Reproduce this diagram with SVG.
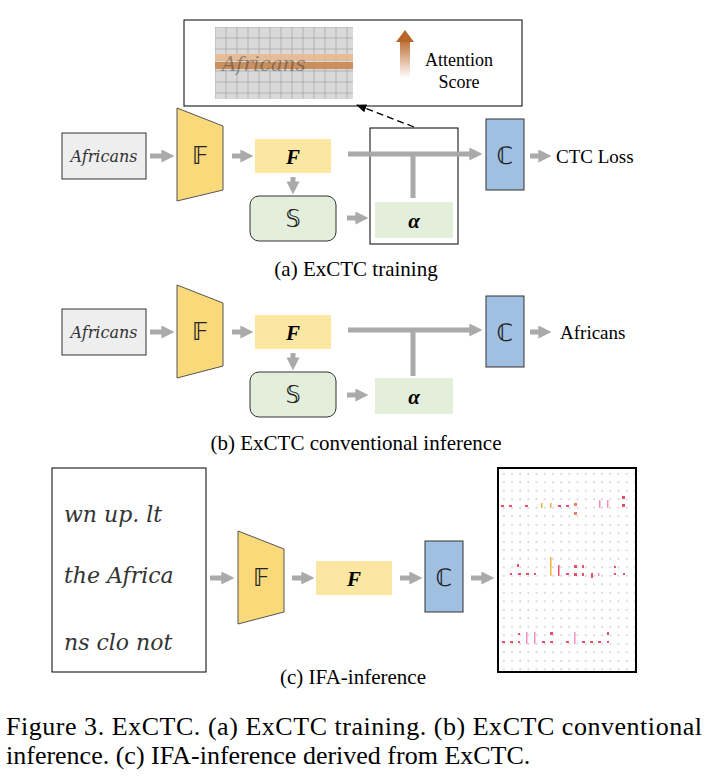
<svg xmlns="http://www.w3.org/2000/svg" width="720" height="780" viewBox="0 0 720 780">
<style>
.t{font-family:"Liberation Serif",serif;fill:#000}
.hw{font-family:"DejaVu Serif",serif;font-style:italic;fill:#333}
.enc{fill:#fad97a;stroke:#555;stroke-width:1}
.feat{fill:#fbe6a2}
.sel{fill:#e3eedb;stroke:#333;stroke-width:1}
.alpha{fill:#e3eedb}
.cls{fill:#9fc0e0;stroke:#333;stroke-width:1}
.g{stroke:#aaa;stroke-width:5;fill:none}
.ds{font-family:"DejaVu Sans",sans-serif;font-size:24px;fill:#222}
</style>
<defs>
<marker id="ah" viewBox="0 0 10 10" refX="2" refY="5" markerWidth="2.6" markerHeight="2.6" orient="auto"><path d="M0,0L10,5L0,10z" fill="#aaa"/></marker>
<marker id="ak" viewBox="0 0 10 10" refX="9" refY="5" markerWidth="8" markerHeight="8" orient="auto"><path d="M0,1L10,5L0,9z" fill="#000"/></marker>
<linearGradient id="ag" x1="0" y1="1" x2="0" y2="0"><stop offset="0" stop-color="#c06020" stop-opacity="0"/><stop offset="1" stop-color="#b8652a"/></linearGradient>
<pattern id="grid" width="11" height="11" patternUnits="userSpaceOnUse" x="215" y="27"><rect width="11" height="11" fill="#d9d9d9" stroke="#999" stroke-width="0.6"/></pattern>
<pattern id="dots" width="8.2" height="8.5" patternUnits="userSpaceOnUse" x="500" y="470"><rect x="3" y="3" width="1.6" height="1.6" fill="#c8c8d8"/></pattern>
</defs>
<g id="attention">
<rect x="184" y="20" width="338" height="86" fill="#fff" stroke="#000" stroke-width="1"/>
<rect x="215" y="27" width="138" height="72" fill="url(#grid)"/>
<rect x="215" y="54" width="138" height="7" fill="#e8b890" opacity="0.9"/>
<rect x="215" y="62" width="138" height="7" fill="#c8824a" opacity="0.85"/>
<text x="222" y="71" class="hw" font-size="20" fill-opacity="0.45">Africans</text>
<rect x="400" y="38" width="10" height="40" fill="url(#ag)"/>
<path d="M396,42L405,30L414,42z" fill="#b8652a"/>
<text x="459" y="66" class="t" font-size="18" text-anchor="middle">Attention</text>
<text x="459" y="88" class="t" font-size="18" text-anchor="middle">Score</text>
</g>
<g id="a_input"><rect x="62" y="133" width="84" height="46" fill="#eee" stroke="#333"/><text x="104" y="162" class="hw" font-size="16" text-anchor="middle">Africans</text></g>
<g id="a_enc"><path d="M177,108L223,126L223,190L177,201z" class="enc"/><text x="200" y="164" class="ds" text-anchor="middle">𝔽</text></g>
<g id="a_F"><rect x="255" y="139" width="76" height="34" class="feat"/><text x="293" y="164" class="t" font-size="21" font-weight="bold" font-style="italic" text-anchor="middle">F</text></g>
<g id="a_S"><rect x="250" y="196" width="86" height="45" rx="9" class="sel"/><text x="293" y="227" class="ds" text-anchor="middle">𝕊</text></g>
<g id="a_alpha"><rect x="375" y="202" width="78" height="36" class="alpha"/><text x="414" y="228" class="t" font-size="21" font-weight="bold" font-style="italic" text-anchor="middle">α</text></g>
<g id="a_box"><rect x="370" y="128" width="88" height="116" fill="none" stroke="#000"/></g>
<g id="a_C"><rect x="486" y="119" width="38" height="71" class="cls"/><text x="505" y="164" class="ds" text-anchor="middle">ℂ</text></g>
<text x="556" y="163" class="t" font-size="19">CTC Loss</text>
<text x="356" y="276" class="t" font-size="21" text-anchor="middle">(a) ExCTC training</text>
<g id="b_input"><rect x="62" y="309" width="84" height="46" fill="#eee" stroke="#333"/><text x="104" y="338" class="hw" font-size="16" text-anchor="middle">Africans</text></g>
<g id="b_enc"><path d="M177,285L223,303L223,366L177,378z" class="enc"/><text x="200" y="340" class="ds" text-anchor="middle">𝔽</text></g>
<g id="b_F"><rect x="255" y="315" width="76" height="34" class="feat"/><text x="293" y="340" class="t" font-size="21" font-weight="bold" font-style="italic" text-anchor="middle">F</text></g>
<g id="b_S"><rect x="250" y="372" width="86" height="45" rx="9" class="sel"/><text x="293" y="403" class="ds" text-anchor="middle">𝕊</text></g>
<g id="b_alpha"><rect x="375" y="378" width="78" height="36" class="alpha"/><text x="414" y="404" class="t" font-size="21" font-weight="bold" font-style="italic" text-anchor="middle">α</text></g>
<g id="b_C"><rect x="486" y="296" width="38" height="71" class="cls"/><text x="505" y="341" class="ds" text-anchor="middle">ℂ</text></g>
<text x="560" y="339" class="t" font-size="19">Africans</text>
<text x="356" y="450" class="t" font-size="21" text-anchor="middle">(b) ExCTC conventional inference</text>
<g id="c_page"><rect x="52" y="468" width="154" height="204" fill="#fff" stroke="#000" stroke-width="1"/>
<text x="64" y="522" class="hw" font-size="22">wn  up.  lt</text>
<text x="64" y="583" class="hw" font-size="22">the  Africa</text>
<text x="64" y="650" class="hw" font-size="22">ns  clo  not</text></g>
<g id="c_enc"><path d="M238,531L284,549L284,612L238,624z" class="enc"/><text x="261" y="586" class="ds" text-anchor="middle">𝔽</text></g>
<g id="c_F"><rect x="316" y="561" width="76" height="34" class="feat"/><text x="354" y="586" class="t" font-size="21" font-weight="bold" font-style="italic" text-anchor="middle">F</text></g>
<g id="c_C"><rect x="425" y="541" width="38" height="71" class="cls"/><text x="444" y="586" class="ds" text-anchor="middle">ℂ</text></g>
<g id="c_out"><rect x="498" y="468" width="138" height="204" fill="url(#dots)" stroke="#000" stroke-width="2"/>
<g fill="#e8506a">
<rect x="501" y="505" width="3" height="2"/><rect x="509" y="505" width="3" height="2"/><rect x="525" y="505" width="3" height="2"/><rect x="541" y="503" width="1.5" height="5" fill="#f0b040"/><rect x="550" y="503" width="1.5" height="5" fill="#f0b040"/><rect x="558" y="505" width="3" height="2"/><rect x="566" y="505" width="3" height="2"/><rect x="574" y="503" width="3" height="3" fill="#f08060"/><rect x="574" y="512" width="3" height="3" fill="#f08060"/><rect x="599" y="500" width="1.5" height="8" fill="#f090c0"/><rect x="607" y="500" width="1.5" height="8" fill="#f090c0"/><rect x="622" y="496" width="3" height="3"/><rect x="622" y="504" width="3" height="3"/>
<rect x="517" y="564" width="2" height="3"/><rect x="510" y="573" width="2" height="2"/><rect x="518" y="573" width="3" height="2"/><rect x="526" y="573" width="3" height="2"/><rect x="534" y="573" width="2" height="2"/><rect x="550" y="557" width="1.5" height="19" fill="#f0b040"/><rect x="558" y="565" width="1.5" height="11"/><rect x="566" y="573" width="3" height="2"/><rect x="574" y="565" width="3" height="3"/><rect x="574" y="573" width="3" height="3"/><rect x="582" y="565" width="2" height="3"/><rect x="582" y="573" width="2" height="3"/><rect x="591" y="573" width="2" height="5"/><rect x="598" y="573" width="1.5" height="3" fill="#f090c0"/><rect x="614" y="566" width="2" height="2"/><rect x="614" y="573" width="2" height="2"/><rect x="623" y="573" width="2" height="2"/>
<rect x="502" y="641" width="3" height="2"/><rect x="510" y="641" width="3" height="2"/><rect x="518" y="633" width="2" height="2"/><rect x="518" y="641" width="2" height="2"/><rect x="526" y="632" width="1.5" height="12" fill="#f090c0"/><rect x="534" y="632" width="1.5" height="12" fill="#f090c0"/><rect x="542" y="641" width="3" height="2"/><rect x="550" y="632" width="3" height="3"/><rect x="550" y="641" width="3" height="2"/><rect x="566" y="641" width="3" height="2"/><rect x="574" y="632" width="1.5" height="12" fill="#f090c0"/><rect x="582" y="641" width="3" height="2"/><rect x="590" y="641" width="3" height="2"/><rect x="598" y="641" width="3" height="2"/><rect x="607" y="632" width="2" height="3"/><rect x="607" y="641" width="2" height="2"/>
</g></g>
<text x="353" y="684" class="t" font-size="21" text-anchor="middle">(c) IFA-inference</text>
<g id="connectors">
<line x1="150" y1="156" x2="164" y2="156" class="g" marker-end="url(#ah)"/>
<line x1="232" y1="156" x2="243" y2="156" class="g" marker-end="url(#ah)"/>
<line x1="293" y1="177" x2="293" y2="184" class="g" marker-end="url(#ah)"/>
<line x1="347" y1="218" x2="358" y2="218" class="g" marker-end="url(#ah)"/>
<line x1="348" y1="154" x2="472" y2="154" class="g" marker-end="url(#ah)"/>
<line x1="413" y1="154" x2="413" y2="198" class="g"/>
<line x1="530" y1="156" x2="541" y2="156" class="g" marker-end="url(#ah)"/>
<line x1="414" y1="127" x2="357" y2="105" stroke="#000" stroke-width="1.3" stroke-dasharray="7,4" marker-end="url(#ak)"/>
<line x1="150" y1="332" x2="164" y2="332" class="g" marker-end="url(#ah)"/>
<line x1="232" y1="332" x2="243" y2="332" class="g" marker-end="url(#ah)"/>
<line x1="293" y1="353" x2="293" y2="360" class="g" marker-end="url(#ah)"/>
<line x1="347" y1="395" x2="358" y2="395" class="g" marker-end="url(#ah)"/>
<line x1="348" y1="330" x2="472" y2="330" class="g" marker-end="url(#ah)"/>
<line x1="413" y1="330" x2="413" y2="376" class="g"/>
<line x1="530" y1="332" x2="541" y2="332" class="g" marker-end="url(#ah)"/>
<line x1="210" y1="578" x2="224" y2="578" class="g" marker-end="url(#ah)"/>
<line x1="292" y1="578" x2="304" y2="578" class="g" marker-end="url(#ah)"/>
<line x1="400" y1="578" x2="412" y2="578" class="g" marker-end="url(#ah)"/>
<line x1="471" y1="578" x2="484" y2="578" class="g" marker-end="url(#ah)"/>
</g>
<text x="6" y="735" class="t" font-size="26" textLength="696" lengthAdjust="spacing">Figure 3. ExCTC. (a) ExCTC training.  (b) ExCTC conventional</text>
<text x="6" y="764" class="t" font-size="26">inference. (c) IFA-inference derived from ExCTC.</text>
</svg>
